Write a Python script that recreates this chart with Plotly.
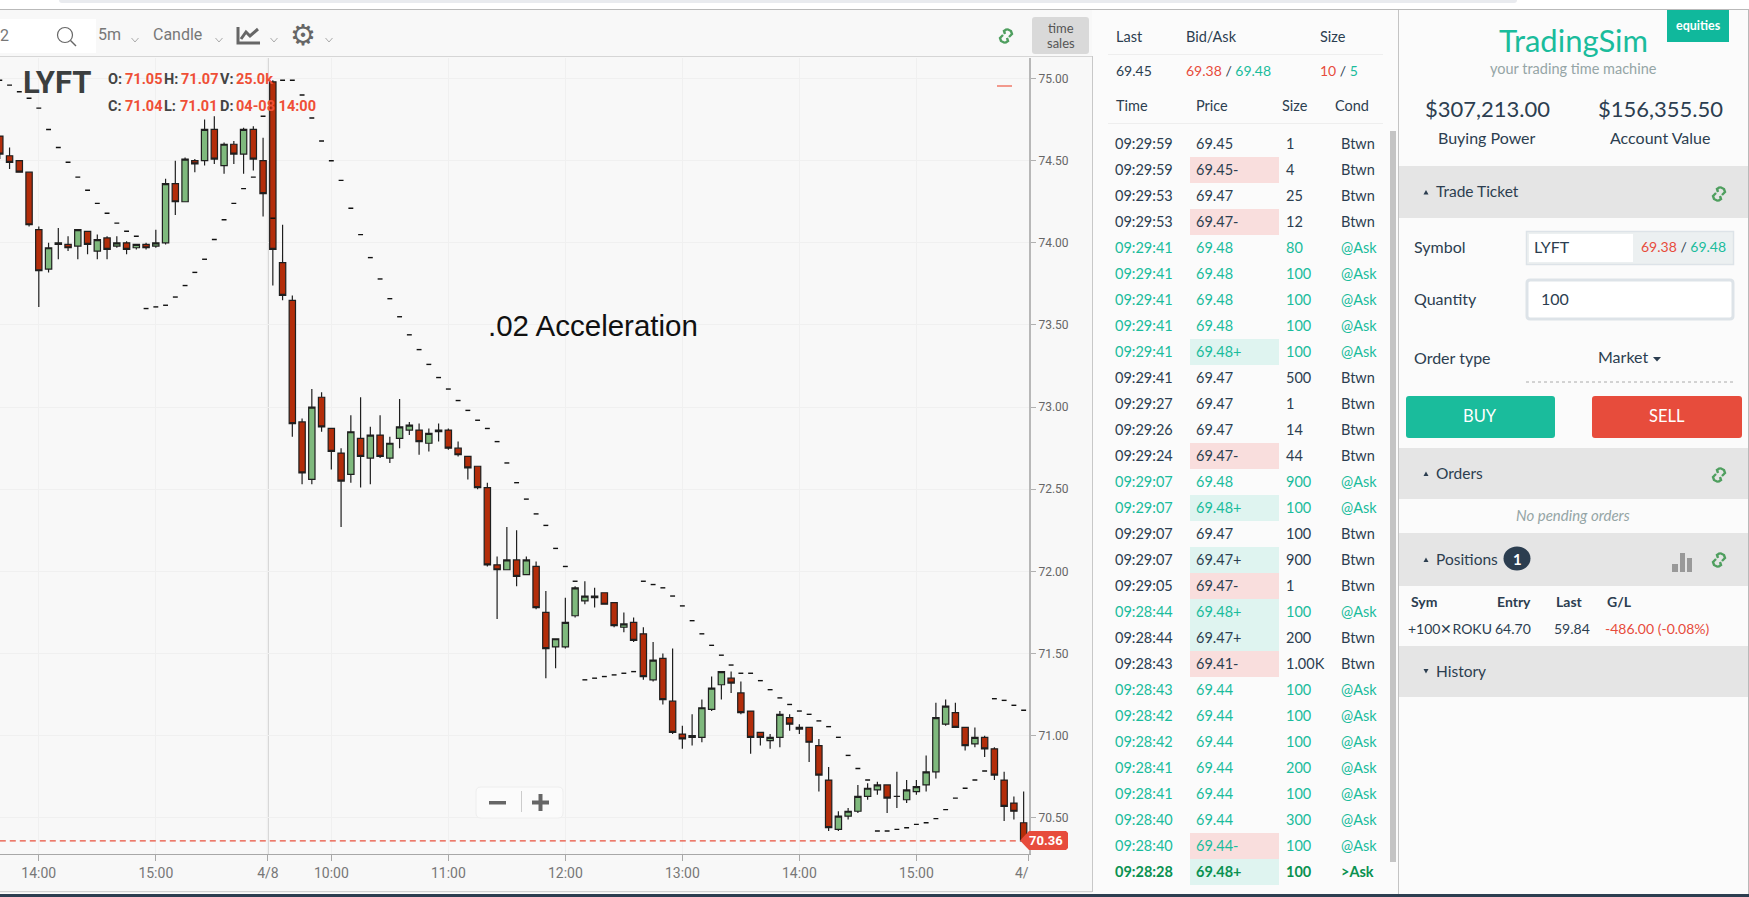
import plotly.graph_objects as go

W = 1749
H = 897

# %% chart data (bar 0 = 09:30 on 4/8)
bar_idx = list(range(-28, 78))
opens = [74.65, 74.53, 74.50, 74.43, 74.08, 73.84, 73.99, 73.99, 73.98, 74.07,
         73.95, 74.03, 73.98, 74.00, 73.97, 73.99, 73.98, 74.00, 74.36, 74.25,
         74.50, 74.50, 74.69, 74.47, 74.60, 74.54, 74.69, 74.50,
         74.98, 73.88, 73.65, 72.91, 72.56, 73.06, 72.87, 72.72, 72.59, 72.81,
         72.69, 72.83, 72.69, 72.81, 72.86, 72.86, 72.78, 72.86, 72.86, 72.75,
         72.70, 72.64, 72.51, 72.04, 72.01, 72.07, 71.98, 72.03, 71.75, 71.54,
         71.54, 71.73, 71.82, 71.85, 71.87, 71.81, 71.66, 71.69, 71.62, 71.34,
         71.47, 71.21, 71.01, 70.99, 70.99, 71.16, 71.31, 71.35, 71.26, 71.15,
         71.02, 70.97, 70.99, 71.11, 71.05, 71.05, 70.94, 70.73, 70.43, 70.51,
         70.54, 70.63, 70.67, 70.70, 70.63, 70.61, 70.66, 70.70, 70.78, 71.07,
         71.14, 71.05, 70.95, 70.99, 70.92, 70.73, 70.59, 70.47]
highs = [74.65, 74.58, 74.50, 74.43, 74.10, 74.00, 74.09, 74.04, 74.08, 74.07,
         74.05, 74.04, 74.04, 74.01, 73.99, 74.00, 74.08, 74.39, 74.50, 74.52,
         74.51, 74.75, 74.77, 74.61, 74.62, 74.70, 74.71, 74.64,
         74.99, 74.11, 73.68, 72.93, 73.11, 73.09, 72.87, 72.75, 72.95, 73.06,
         72.88, 72.95, 72.82, 73.05, 72.91, 72.90, 72.87, 72.90, 72.87, 72.79,
         72.70, 72.64, 72.54, 72.09, 72.27, 72.25, 72.09, 72.06, 71.88, 71.59,
         71.84, 71.91, 71.94, 71.90, 71.87, 71.81, 71.75, 71.72, 71.66, 71.57,
         71.50, 71.53, 71.06, 71.13, 71.22, 71.36, 71.39, 71.39, 71.33, 71.15,
         71.02, 71.01, 71.15, 71.13, 71.07, 71.05, 70.98, 70.81, 70.54, 70.56,
         70.70, 70.71, 70.72, 70.70, 70.78, 70.73, 70.73, 70.88, 71.20, 71.22,
         71.20, 71.05, 71.05, 71.00, 70.93, 70.78, 70.63, 70.66]
lows = [74.51, 74.45, 74.43, 74.10, 73.61, 73.82, 73.90, 73.95, 73.90, 73.93,
        73.90, 73.90, 73.97, 73.93, 73.96, 73.96, 73.97, 73.99, 74.17, 74.25,
        74.43, 74.47, 74.48, 74.42, 74.48, 74.42, 74.44, 74.16,
        73.74, 73.65, 72.82, 72.53, 72.53, 72.85, 72.62, 72.27, 72.54, 72.51,
        72.53, 72.69, 72.66, 72.75, 72.83, 72.71, 72.73, 72.79, 72.74, 72.70,
        72.56, 72.50, 72.03, 71.71, 72.01, 71.91, 71.98, 71.77, 71.35, 71.41,
        71.53, 71.72, 71.80, 71.78, 71.80, 71.66, 71.63, 71.57, 71.34, 71.33,
        71.19, 71.01, 70.92, 70.94, 70.96, 71.15, 71.22, 71.26, 71.13, 70.89,
        70.94, 70.92, 70.93, 71.03, 71.01, 70.84, 70.66, 70.42, 70.42, 70.49,
        70.53, 70.61, 70.64, 70.53, 70.56, 70.59, 70.64, 70.66, 70.74, 71.06,
        71.05, 70.91, 70.93, 70.87, 70.73, 70.48, 70.49, 70.36]
closes = [74.54, 74.49, 74.43, 74.11, 73.83, 73.97, 74.00, 73.97, 74.08, 73.99,
          74.02, 73.96, 74.00, 73.96, 73.99, 73.97, 74.00, 74.36, 74.25, 74.51,
          74.48, 74.69, 74.51, 74.60, 74.54, 74.69, 74.51, 74.30,
          73.96, 73.68, 72.90, 72.60, 73.00, 72.88, 72.73, 72.55, 72.85, 72.70,
          72.83, 72.70, 72.78, 72.88, 72.89, 72.79, 72.84, 72.85, 72.75, 72.71,
          72.63, 72.51, 72.04, 72.01, 72.07, 71.97, 72.07, 71.78, 71.53, 71.59,
          71.69, 71.90, 71.85, 71.84, 71.80, 71.67, 71.68, 71.58, 71.36, 71.46,
          71.22, 71.02, 70.98, 71.00, 71.17, 71.29, 71.39, 71.32, 71.14, 70.99,
          70.99, 70.99, 71.13, 71.07, 71.04, 70.96, 70.76, 70.44, 70.51, 70.54,
          70.63, 70.68, 70.70, 70.62, 70.63, 70.67, 70.69, 70.78, 71.11, 71.18,
          71.05, 70.94, 70.99, 70.92, 70.76, 70.57, 70.54, 70.36]
sar = [74.99, 74.96, 74.92, 74.88, 74.82, 74.69, 74.58, 74.49, 74.40, 74.32,
       74.24, 74.18, 74.12, 74.07, 74.04, 73.60, 73.61, 73.62, 73.67, 73.74,
       73.82, 73.90, 74.02, 74.14, 74.24, 74.33, 74.40, 74.77,
       74.15, 74.99, 74.99, 74.90, 74.76, 74.62, 74.50, 74.38, 74.21, 74.05,
       73.91, 73.78, 73.66, 73.55, 73.44, 73.35, 73.26, 73.18, 73.11, 73.04,
       72.98, 72.92, 72.87, 72.79, 72.66, 72.54, 72.44, 72.35, 72.28, 72.14,
       72.03, 71.94, 71.34, 71.35, 71.36, 71.37, 71.38, 71.39, 71.94, 71.92,
       71.90, 71.85, 71.79, 71.70, 71.62, 71.55, 71.49, 71.43, 71.38, 71.38,
       71.335, 71.28, 71.23, 71.19, 71.15, 71.13, 71.09, 71.055, 70.99, 70.88,
       70.80, 70.73, 70.42, 70.42, 70.43, 70.44, 70.46, 70.47, 70.495, 70.55,
       70.62, 70.68, 70.73, 70.785, 71.225, 71.215, 71.185, 71.155]
last_price = 70.36
x_tick_pos = [-24, -12, -0.5, 6, 18, 30, 42, 54, 66, 77.5]
x_tick_text = ["14:00", "15:00", "4/8", "10:00", "11:00", "12:00", "13:00", "14:00", "15:00", ""]
y_ticks = [70.5, 71.0, 71.5, 72.0, 72.5, 73.0, 73.5, 74.0, 74.5, 75.0]

# %% time and sales tape
tape_time = ["09:29:59", "09:29:59", "09:29:53", "09:29:53", "09:29:41", "09:29:41", "09:29:41", "09:29:41",
             "09:29:41", "09:29:41", "09:29:27", "09:29:26", "09:29:24", "09:29:07", "09:29:07", "09:29:07",
             "09:29:07", "09:29:05", "09:28:44", "09:28:44", "09:28:43", "09:28:43", "09:28:42", "09:28:42",
             "09:28:41", "09:28:41", "09:28:40", "09:28:40", "09:28:28"]
tape_price = ["69.45", "69.45-", "69.47", "69.47-", "69.48", "69.48", "69.48", "69.48",
              "69.48+", "69.47", "69.47", "69.47", "69.47-", "69.48", "69.48+", "69.47",
              "69.47+", "69.47-", "69.48+", "69.47+", "69.41-", "69.44", "69.44", "69.44",
              "69.44", "69.44", "69.44", "69.44-", "69.48+"]
tape_size = ["1", "4", "25", "12", "80", "100", "100", "100",
             "100", "500", "1", "14", "44", "900", "100", "100",
             "900", "1", "100", "200", "1.00K", "100", "100", "100",
             "200", "100", "300", "100", "100"]
tape_cond = ["Btwn", "Btwn", "Btwn", "Btwn", "@Ask", "@Ask", "@Ask", "@Ask",
             "@Ask", "Btwn", "Btwn", "Btwn", "Btwn", "@Ask", "@Ask", "Btwn",
             "Btwn", "Btwn", "@Ask", "Btwn", "Btwn", "@Ask", "@Ask", "@Ask",
             "@Ask", "@Ask", "@Ask", "@Ask", ">Ask"]

NAVY = "#2c3e50"
TEAL = "#1abc9c"
RED = "#e74c3c"
PANEL = "#f8f8f8"
BAND = "#e5e5e5"

shapes = []
notes = []


def X(px):
    return px / W


def Y(py):
    return 1 - py / H


def rect(x0, y0, x1, y1, fill, layer="below", line=None, lw=0):
    shapes.append(dict(type="rect", xref="paper", yref="paper", x0=X(x0), x1=X(x1), y0=Y(y0), y1=Y(y1),
                       fillcolor=fill, line=dict(color=line or fill, width=lw), layer=layer))


def seg(x0, y0, x1, y1, color, w=1, dash="solid", layer="above"):
    shapes.append(dict(type="line", xref="paper", yref="paper", x0=X(x0), x1=X(x1), y0=Y(y0), y1=Y(y1),
                       line=dict(color=color, width=w, dash=dash), layer=layer))


def poly(points, fill=None, color=None, w=0, close=True, layer="above"):
    d = "M " + " L ".join(f"{X(a):.5f},{Y(b):.5f}" for a, b in points)
    if close:
        d += " Z"
    shapes.append(dict(type="path", xref="paper", yref="paper", path=d, fillcolor=fill or "rgba(0,0,0,0)",
                       line=dict(color=color or "rgba(0,0,0,0)", width=w), layer=layer))


def round_rect(x0, y0, x1, y1, r, fill, line=None, lw=0, layer="below"):
    d = (f"M {X(x0+r):.5f},{Y(y0):.5f} L {X(x1-r):.5f},{Y(y0):.5f} Q {X(x1):.5f},{Y(y0):.5f} {X(x1):.5f},{Y(y0+r):.5f} "
         f"L {X(x1):.5f},{Y(y1-r):.5f} Q {X(x1):.5f},{Y(y1):.5f} {X(x1-r):.5f},{Y(y1):.5f} "
         f"L {X(x0+r):.5f},{Y(y1):.5f} Q {X(x0):.5f},{Y(y1):.5f} {X(x0):.5f},{Y(y1-r):.5f} "
         f"L {X(x0):.5f},{Y(y0+r):.5f} Q {X(x0):.5f},{Y(y0):.5f} {X(x0+r):.5f},{Y(y0):.5f} Z")
    shapes.append(dict(type="path", xref="paper", yref="paper", path=d, fillcolor=fill,
                       line=dict(color=line or fill, width=lw), layer=layer))


def circle(cx, cy, rx, ry, fill, line=None, lw=0, layer="above"):
    shapes.append(dict(type="circle", xref="paper", yref="paper", x0=X(cx-rx), x1=X(cx+rx), y0=Y(cy+ry), y1=Y(cy-ry),
                       fillcolor=fill, line=dict(color=line or fill, width=lw), layer=layer))


def txt(x, y, s, size=14, color=NAVY, anchor="left", font="Lato"):
    if font == "Lato":
        y -= 0.8  # Lato sits a little low in its box
    notes.append(dict(x=X(x), y=Y(y), xref="paper", yref="paper", text=s, showarrow=False, xanchor=anchor,
                      yanchor="middle", borderpad=0, borderwidth=0, align=anchor,
                      font=dict(family=font, size=size, color=color)))


def chevron(x, y):
    poly([(x-3.5, y-2), (x, y+2), (x+3.5, y-2)], color="#aaaaaa", w=1, close=False)


def link_icon(cx, cy):
    # chain link, two short capsules on a diagonal
    poly([(cx+1, cy-7), (cx+5, cy-5), (cx+6, cy-2), (cx+3, cy+1)], color="#4f9f5f", w=2.4, close=False)
    poly([(cx+1, cy-7), (cx-2, cy-5), (cx-1, cy-2)], color="#4f9f5f", w=2.4, close=False)
    poly([(cx-1, cy+7), (cx-5, cy+5), (cx-6, cy+2), (cx-3, cy-1)], color="#4f9f5f", w=2.4, close=False)
    poly([(cx-1, cy+7), (cx+2, cy+5), (cx+1, cy+2)], color="#4f9f5f", w=2.4, close=False)


def band(y0, y1, label, up=True):
    rect(1399, y0, 1748, y1, BAND)
    cy = (y0 + y1) / 2
    tri = [(1423.5, cy+2.5), (1428.5, cy+2.5), (1426, cy-2)] if up else [(1423.5, cy-2.5), (1428.5, cy-2.5), (1426, cy+2)]
    poly(tri, fill=NAVY)
    txt(1436, cy, label, size=15.5, color=NAVY)


# %% page background
rect(0, 0, W, 9, "#ffffff")
round_rect(59, -6, 1517, 3, 3, "#e9ebef")
seg(0, 9.5, W, 9.5, "#b9b9b9", 1, layer="below")
rect(0, 10, 1092, 892, PANEL)
rect(1093, 10, 1398, 892, "#fbfbfb")
rect(1399, 10, 1748, 894, "#fbfbfb")
seg(1092.5, 56, 1092.5, 892, "#c8c8c8", 1, layer="below")
seg(1398.5, 10, 1398.5, 894, "#c4c4c4", 1, layer="below")
seg(1748.5, 10, 1748.5, 894, "#b9b9b9", 1, layer="below")
seg(0, 891.7, 1092, 891.7, "#c8c8c8", 1, layer="below")
rect(0, 894, W, H, "#2c3e50")

# %% toolbar
rect(0, 19, 96, 53, "#ffffff")
txt(9, 36, "2", size=16, color="#777777", anchor="right", font="Roboto")
circle(65, 35, 7.5, 7.5, "rgba(0,0,0,0)", line="#666666", lw=1.2)
seg(70.5, 40.5, 76, 46, "#666666", 1.4)
txt(98, 34, "5m", size=16, color="#777777", font="Roboto")
chevron(135, 40)
txt(153, 34, "Candle", size=16, color="#777777", font="Roboto")
chevron(219, 40)
poly([(238, 27), (238, 43), (260, 43)], color="#666666", w=3, close=False)
poly([(241, 39), (246, 32), (250, 36), (258, 29)], color="#666666", w=3, close=False)
chevron(274, 40)
txt(303, 35, "⚙", size=29, color="#666666", anchor="center", font="DejaVu Sans")
chevron(329, 40)
seg(0, 56.5, 1092, 56.5, "#d6d6d6", 1, layer="below")
link_icon(1006, 36)
round_rect(1032, 17, 1089, 54, 3, "#d9d9d9")
txt(1060.5, 29, "time", size=13, color="#555555", anchor="center")
txt(1060.5, 44, "sales", size=13, color="#555555", anchor="center")

# %% chart overlays
txt(23, 83, "<b>LYFT</b>", size=31, color="#3c3f3f", font="Roboto")
for x, y, lab, val, vx in [(107.5, 79.5, "O:", "71.05", 125), (163.5, 79.5, "H:", "71.07", 181),
                           (220, 79.5, "V:", "25.0k", 236), (107.5, 106, "C:", "71.04", 125),
                           (164, 106, "L:", "71.01", 180), (220, 106, "D:", "04-08 14:00", 236)]:
    txt(x, y, f"<b>{lab}</b>", size=14.5, color="#444444", font="Roboto")
    txt(vx, y, f"<b>{val}</b>", size=14.5, color="#ef4f36", font="Roboto")
txt(488, 325, ".02 Acceleration", size=29.5, color="#111111", font="Liberation Sans")
seg(997, 86, 1012, 86, "#ef5a45", 1.2)

# zoom control
round_rect(476, 787, 563, 818, 5, "#fbfbfb", line="#eeeeee", lw=1, layer="above")
rect(489, 801, 506, 804.5, "#666666", layer="above")
seg(521.5, 791, 521.5, 812, "#cccccc", 1)
rect(532, 800.5, 549, 804.5, "#666666", layer="above")
rect(538.5, 794, 542.5, 811, "#666666", layer="above")

# last price tag
shapes.append(dict(type="line", xref="x", yref="y", x0=-28, x1=76.6, y0=last_price, y1=last_price,
                   line=dict(color="#e8503c", width=1.2, dash="6px,4px"), layer="above"))
poly([(1020, 840.5), (1029, 831), (1066, 831), (1068, 833), (1068, 848), (1066, 850), (1029, 850)], fill=RED)
txt(1046, 840.5, "<b>70.36</b>", size=13, color="#ffffff", anchor="center", font="Roboto")
txt(1029, 872.5, "4/", size=14, color="#777777", anchor="right", font="Roboto")

# day separator
shapes.append(dict(type="line", xref="x", yref="paper", x0=-0.5, x1=-0.5, y0=Y(854.3), y1=Y(58),
                   line=dict(color="#d6d6d6", width=2), layer="below"))

# %% time and sales
txt(1116, 37, "Last", size=14.5)
txt(1186, 37, "Bid/Ask", size=14.5)
txt(1320, 37, "Size", size=14.5)
seg(1108, 54.5, 1383, 54.5, "#eeeeee", 1, layer="below")
txt(1116, 71, "69.45", size=14)
txt(1186, 71, f'<span style="color:{RED}">69.38</span> / <span style="color:{TEAL}">69.48</span>', size=14)
txt(1320, 71, f'<span style="color:{RED}">10</span> / <span style="color:{TEAL}">5</span>', size=14)
txt(1116, 106, "Time", size=14.5)
txt(1196, 106, "Price", size=14.5)
txt(1282, 106, "Size", size=14.5)
txt(1335, 106, "Cond", size=14.5)
seg(1108, 123.5, 1383, 123.5, "#eeeeee", 1, layer="below")
for i, (t, p, s, c) in enumerate(zip(tape_time, tape_price, tape_size, tape_cond)):
    y = 144 + 26 * i
    if p.endswith("-"):
        rect(1190, y-13, 1279, y+13, "#f9dedd")
    elif p.endswith("+"):
        rect(1190, y-13, 1279, y+13, "#dff4f0")
    color = TEAL if c == "@Ask" else NAVY
    if c == ">Ask":
        color = "#0a9150"
        t, p, s, c = f"<b>{t}</b>", f"<b>{p}</b>", f"<b>{s}</b>", f"<b>{c}</b>"
    txt(1114.7, y, t, size=14.5, color=color)
    txt(1196, y, p, size=14.5, color=color)
    txt(1286, y, s, size=14.5, color=color)
    txt(1340.7, y, c, size=14.5, color=color)
rect(1390, 131, 1396, 862, "#c4c4c4")

# %% account panel
rect(1667, 10, 1729, 42, "#10b89c")
txt(1698, 26, "<b>equities</b>", size=12.5, color="#ffffff", anchor="center")
txt(1573, 41, "TradingSim", size=31, color=TEAL, anchor="center")
txt(1573, 69, "your trading time machine", size=14.5, color="#95a5a6", anchor="center")
txt(1487, 109, "$307,213.00", size=22, anchor="center")
txt(1660, 109, "$156,355.50", size=22, anchor="center")
txt(1487, 138, "Buying Power", size=16, anchor="center")
txt(1660, 138, "Account Value", size=16, anchor="center")

band(166, 218, "Trade Ticket")
link_icon(1719, 194)
txt(1413.5, 247, "Symbol", size=16)
rect(1526.5, 231.5, 1733.5, 264.5, "#ecf0f1", line="#dde3e8", lw=1.5)
rect(1529, 234, 1633, 262, "#ffffff")
txt(1534, 247, "LYFT", size=16)
txt(1683, 247, f'<span style="color:{RED}">69.38</span> / <span style="color:{TEAL}">69.48</span>', size=14, anchor="center")
txt(1413.5, 299, "Quantity", size=16)
round_rect(1527, 280, 1733, 319, 3, "#ffffff", line="#dde3e8", lw=3)
txt(1541, 299, "100", size=16)
txt(1413.5, 358, "Order type", size=16)
txt(1598, 357, "Market", size=16)
poly([(1653, 357), (1661, 357), (1657, 361.5)], fill=NAVY)
seg(1526, 382, 1734, 382, "#aaaaaa", 1, dash="dot")
round_rect(1406, 396, 1555, 438, 3, TEAL)
txt(1480, 417, "BUY", size=16.5, color="#ffffff", anchor="center")
round_rect(1592, 396, 1742, 438, 3, RED)
txt(1667, 417, "SELL", size=16.5, color="#ffffff", anchor="center")

band(448, 499, "Orders")
link_icon(1719, 475)
txt(1573, 516, "<i>No pending orders</i>", size=15, color="#95a5a6", anchor="center")

band(533, 586, "Positions")
circle(1517, 558.5, 13.5, 12, NAVY)
txt(1517, 559.5, "<b>1</b>", size=15, color="#ffffff", anchor="center")
rect(1672, 564, 1678, 572, "#999999")
rect(1680, 553, 1685, 572, "#999999")
rect(1687, 558, 1692, 572, "#999999")
link_icon(1719, 560)
for x, s in [(1411, "Sym"), (1497, "Entry"), (1556, "Last"), (1607, "G/L")]:
    txt(x, 602, f"<b>{s}</b>", size=14)
txt(1408, 629, "+100✕ROKU", size=14)
txt(1495, 629, "64.70", size=14)
txt(1554, 629, "59.84", size=14)
txt(1605, 629, "-486.00 (-0.08%)", size=14, color=RED)
band(646, 697, "History", up=False)

# %% figure
fig = go.Figure()
fig.add_trace(go.Candlestick(
    x=bar_idx, open=opens, high=highs, low=lows, close=closes,
    increasing=dict(fillcolor="#7fb97d", line=dict(color="#1f1f1f", width=1.2)),
    decreasing=dict(fillcolor="#b32d0a", line=dict(color="#1f1f1f", width=1.2)),
    whiskerwidth=0, hoverinfo="skip"))
fig.add_trace(go.Scatter(
    x=bar_idx, y=sar, mode="markers", hoverinfo="skip",
    marker=dict(symbol="line-ew", size=3.5, line=dict(color="#111111", width=1.4))))

fig.update_layout(
    width=W, height=H, margin=dict(l=0, r=0, t=0, b=0), showlegend=False,
    paper_bgcolor="#fbfbfb", plot_bgcolor=PANEL, boxgap=0.35, boxgroupgap=0,
    shapes=shapes, annotations=notes,
    xaxis=dict(domain=[0, X(1029.3)], range=[-27.98, 77.58], rangeslider=dict(visible=False),
               tickmode="array", tickvals=x_tick_pos, ticktext=x_tick_text, ticks="outside", ticklen=6,
               tickcolor="#a8a8a8", showline=True, linecolor="#a8a8a8", linewidth=1,
               showgrid=True, gridcolor="#f0f0f0", zeroline=False,
               tickfont=dict(family="Roboto", size=14, color="#777777")),
    yaxis=dict(domain=[Y(854.3), Y(58)], range=[70.278, 75.125], side="right",
               tickmode="array", tickvals=y_ticks, ticktext=[f"{v:.2f}" for v in y_ticks],
               ticks="outside", ticklen=5, tickcolor="#b0b0b0", showline=True, linecolor="#b8b8b8", linewidth=1.5,
               showgrid=True, gridcolor="#f0f0f0", zeroline=False,
               tickfont=dict(family="Roboto", size=12, color="#666666")),
)

fig.write_html("out.html", config=dict(displayModeBar=False),
               post_script="document.body.style.margin='0';document.body.style.overflow='hidden';")
